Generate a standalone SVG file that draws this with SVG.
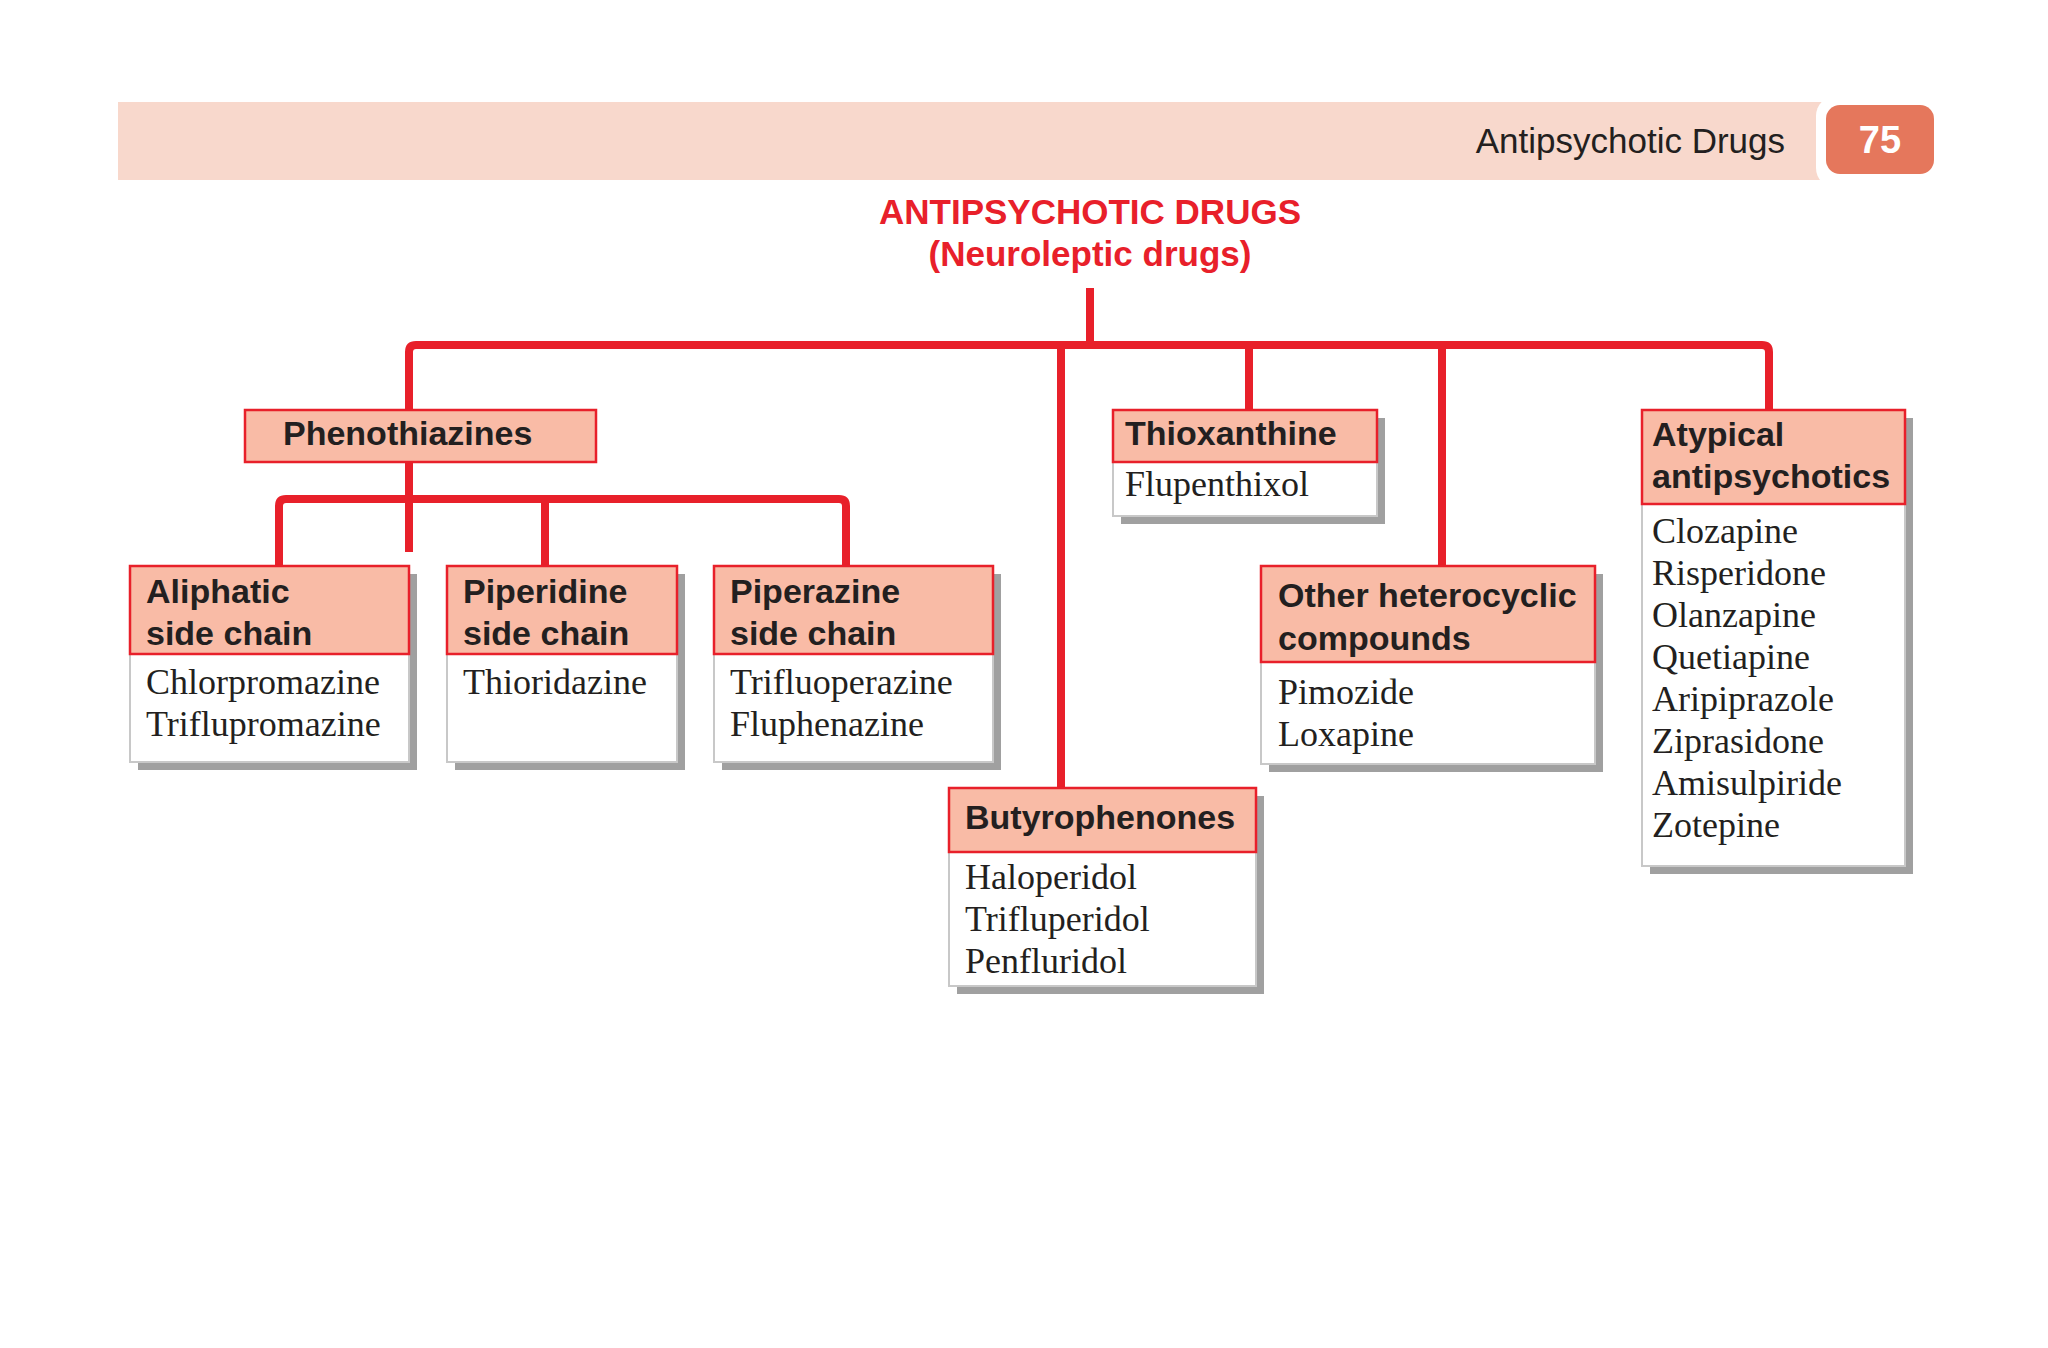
<svg xmlns="http://www.w3.org/2000/svg" width="2048" height="1348" viewBox="0 0 2048 1348">
<style>
.hd{fill:#f9bba6;stroke:#e8202a;stroke-width:2.5}
.bd{fill:#fff;stroke:#c8c8c8;stroke-width:2}
.sh{fill:#a0a0a0}
.ht{font-family:"Liberation Sans",Arial,sans-serif;font-weight:bold;font-size:34px;fill:#231f20}
.bt{font-family:"Liberation Serif","Times New Roman",serif;font-size:36px;fill:#231f20}
.ln{fill:none;stroke:#e8202a;stroke-width:8;stroke-linejoin:round}
</style>
<rect width="2048" height="1348" fill="#fff"/>
<rect x="118" y="102" width="1720" height="78" fill="#f8d8cc"/>
<rect x="1816" y="96" width="130" height="92" rx="20" fill="#fff"/>
<rect x="1826" y="105" width="108" height="69" rx="14" fill="#e5775c"/>
<text x="1880" y="153" text-anchor="middle" font-family="Liberation Sans,Arial,sans-serif" font-weight="bold" font-size="38" fill="#fff">75</text>
<text x="1785" y="153" text-anchor="end" font-family="Liberation Sans,Arial,sans-serif" font-size="35" fill="#231f20">Antipsychotic Drugs</text>
<g id="title" font-family="Liberation Sans,Arial,sans-serif" font-weight="bold" font-size="35" fill="#e8202a" text-anchor="middle">
<text x="1090" y="224">ANTIPSYCHOTIC DRUGS</text>
<text x="1090" y="266">(Neuroleptic drugs)</text>
</g>
<g id="connectors">
<path class="ln" d="M1090 288V345"/>
<path class="ln" d="M409 552V352Q409 345 416 345H1762Q1769 345 1769 352V410"/>
<path class="ln" d="M1061 345V788"/>
<path class="ln" d="M1249 345V410"/>
<path class="ln" d="M1442 345V566"/>
<path class="ln" d="M409 462V499"/>
<path class="ln" d="M279 565V506Q279 499 286 499H839Q846 499 846 506V565"/>
<path class="ln" d="M545 499V565"/>
</g>
<g id="phenothiazines">
<rect class="hd" x="245" y="410" width="351" height="52"/>
<text class="ht" x="283" y="445">Phenothiazines</text>
</g>
<g id="aliphatic">
<rect class="sh" x="138" y="574" width="279" height="196"/>
<rect class="bd" x="130" y="566" width="279" height="196"/>
<rect class="hd" x="130" y="566" width="279" height="88"/>
<text class="ht" x="146" y="603">Aliphatic</text><text class="ht" x="146" y="645">side chain</text>
<text class="bt" x="146" y="694">Chlorpromazine</text><text class="bt" x="146" y="736">Triflupromazine</text>
</g>
<g id="piperidine">
<rect class="sh" x="455" y="574" width="230" height="196"/>
<rect class="bd" x="447" y="566" width="230" height="196"/>
<rect class="hd" x="447" y="566" width="230" height="88"/>
<text class="ht" x="463" y="603">Piperidine</text><text class="ht" x="463" y="645">side chain</text>
<text class="bt" x="463" y="694">Thioridazine</text>
</g>
<g id="piperazine">
<rect class="sh" x="722" y="574" width="279" height="196"/>
<rect class="bd" x="714" y="566" width="279" height="196"/>
<rect class="hd" x="714" y="566" width="279" height="88"/>
<text class="ht" x="730" y="603">Piperazine</text><text class="ht" x="730" y="645">side chain</text>
<text class="bt" x="730" y="694">Trifluoperazine</text><text class="bt" x="730" y="736">Fluphenazine</text>
</g>
<g id="thioxanthine">
<rect class="sh" x="1121" y="418" width="264" height="106"/>
<rect class="bd" x="1113" y="410" width="264" height="106"/>
<rect class="hd" x="1113" y="410" width="264" height="52"/>
<text class="ht" x="1125" y="445">Thioxanthine</text>
<text class="bt" x="1125" y="496">Flupenthixol</text>
</g>
<g id="other">
<rect class="sh" x="1269" y="574" width="334" height="198"/>
<rect class="bd" x="1261" y="566" width="334" height="198"/>
<rect class="hd" x="1261" y="566" width="334" height="96"/>
<text class="ht" x="1278" y="607">Other heterocyclic</text><text class="ht" x="1278" y="650">compounds</text>
<text class="bt" x="1278" y="704">Pimozide</text><text class="bt" x="1278" y="746">Loxapine</text>
</g>
<g id="atypical">
<rect class="sh" x="1650" y="418" width="263" height="456"/>
<rect class="bd" x="1642" y="410" width="263" height="456"/>
<rect class="hd" x="1642" y="410" width="263" height="94"/>
<text class="ht" x="1652" y="446">Atypical</text><text class="ht" x="1652" y="488">antipsychotics</text>
<g class="bt">
<text x="1652" y="543">Clozapine</text><text x="1652" y="585">Risperidone</text><text x="1652" y="627">Olanzapine</text><text x="1652" y="669">Quetiapine</text><text x="1652" y="711">Aripiprazole</text><text x="1652" y="753">Ziprasidone</text><text x="1652" y="795">Amisulpiride</text><text x="1652" y="837">Zotepine</text>
</g>
</g>
<g id="butyrophenones">
<rect class="sh" x="957" y="796" width="307" height="198"/>
<rect class="bd" x="949" y="788" width="307" height="198"/>
<rect class="hd" x="949" y="788" width="307" height="64"/>
<text class="ht" x="965" y="829">Butyrophenones</text>
<text class="bt" x="965" y="889">Haloperidol</text><text class="bt" x="965" y="931">Trifluperidol</text><text class="bt" x="965" y="973">Penfluridol</text>
</g>
</svg>
